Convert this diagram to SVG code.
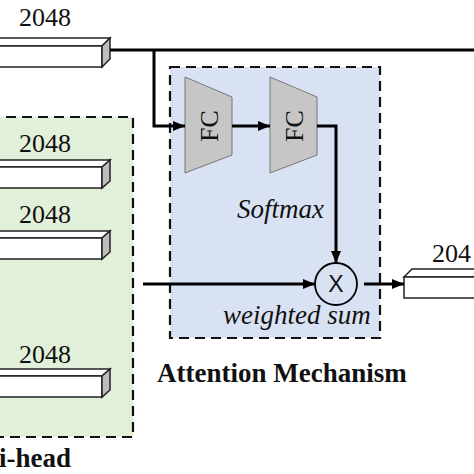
<svg xmlns="http://www.w3.org/2000/svg" width="474" height="474" viewBox="0 0 474 474">
<style>
.lbl{font-family:"Liberation Serif","Times New Roman",serif;font-size:26px;fill:#111}
.it{font-family:"Liberation Serif","Times New Roman",serif;font-size:27px;font-style:italic;fill:#111}
.bold{font-family:"Liberation Serif","Times New Roman",serif;font-size:27px;font-weight:bold;fill:#111}
.face{fill:#fff;stroke:#222;stroke-width:1.5}
.side{fill:#bdbdbd;stroke:#222;stroke-width:1.5}
.fc{fill:#c6c6c6;stroke:#777;stroke-width:1}
.ln{fill:none;stroke:#000;stroke-width:3}
.box{stroke:#111;stroke-width:2.2;stroke-dasharray:10,6}
</style>
<defs>
<marker id="ah" viewBox="0 0 12 10" refX="12" refY="5" markerWidth="12" markerHeight="10" markerUnits="userSpaceOnUse" orient="auto">
<path d="M0,0 L12,5 L0,10 Z" fill="#000"/>
</marker>
</defs>
<rect width="474" height="474" fill="#fff"/>
<g id="multihead-box">
<rect class="box" x="-10" y="117" width="143" height="320" fill="#e2efd9"/>
</g>
<g id="attention-box">
<rect class="box" x="170" y="67" width="210" height="271" fill="#d9e2f3"/>
</g>
<g id="bar-top">
<polygon class="face" points="-10,46 -2,38 110,38 102,46"/>
<rect class="face" x="-10" y="46" width="112" height="21"/>
<polygon class="side" points="102,46 110,38 110,59 102,67"/>
<text class="lbl" x="45" y="26" text-anchor="middle">2048</text>
</g>
<g id="bar-1">
<polygon class="face" points="-10,167 -2,160 110,160 102,167"/>
<rect class="face" x="-10" y="167" width="112" height="21"/>
<polygon class="side" points="102,167 110,160 110,181 102,188"/>
<text class="lbl" x="45" y="152" text-anchor="middle">2048</text>
</g>
<g id="bar-2">
<polygon class="face" points="-10,238 -2,231 110,231 102,238"/>
<rect class="face" x="-10" y="238" width="112" height="21"/>
<polygon class="side" points="102,238 110,231 110,252 102,259"/>
<text class="lbl" x="45" y="223" text-anchor="middle">2048</text>
</g>
<g id="bar-3">
<polygon class="face" points="-10,376 -2,369 110,369 102,376"/>
<rect class="face" x="-10" y="376" width="112" height="21"/>
<polygon class="side" points="102,376 110,369 110,390 102,397"/>
<text class="lbl" x="45" y="363" text-anchor="middle">2048</text>
</g>
<g id="bar-out">
<polygon class="face" points="404,277 412,269 480,269 480,277"/>
<rect class="face" x="404" y="277" width="80" height="21"/>
<text class="lbl" x="432" y="262">204</text>
</g>
<g id="fc1">
<polygon class="fc" points="185,77 232,97 232,155 185,173"/>
<text class="lbl" transform="translate(218,126) rotate(-90)" text-anchor="middle">FC</text>
</g>
<g id="fc2">
<polygon class="fc" points="270,77 317,97 317,155 270,173"/>
<text class="lbl" transform="translate(303,126) rotate(-90)" text-anchor="middle">FC</text>
</g>
<g id="multiply">
<circle cx="336" cy="284" r="21" fill="none" stroke="#000" stroke-width="1.8"/>
<text x="336" y="292" text-anchor="middle" font-family="Liberation Sans, Arial, sans-serif" font-size="23" fill="#111">X</text>
</g>
<g id="connectors">
<path class="ln" d="M110,50 H474"/>
<path class="ln" d="M154,50 V126 H185" marker-end="url(#ah)"/>
<path class="ln" d="M232,126 H270" marker-end="url(#ah)"/>
<path class="ln" d="M317,126 H336 V263" marker-end="url(#ah)"/>
<path class="ln" d="M143,284 H315" marker-end="url(#ah)"/>
<path class="ln" d="M364,284 H404" marker-end="url(#ah)"/>
</g>
<g id="labels">
<text class="it" x="237" y="218">Softmax</text>
<text class="it" x="223" y="324">weighted sum</text>
<text class="bold" x="157" y="382">Attention Mechanism</text>
<text class="bold" x="-1" y="467">i-head</text>
</g>
</svg>
